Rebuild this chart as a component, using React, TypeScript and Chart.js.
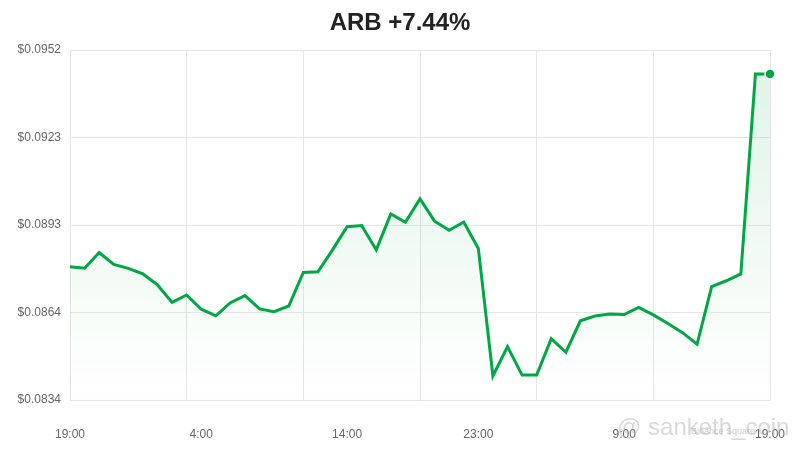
import React, { useEffect, useRef } from "react";
import { Chart, registerables } from "chart.js";

Chart.register(...registerables);

const chartTitle = "ARB +7.44%";

const hourLabels = [
  "19:00", "20:00", "21:00", "22:00", "23:00", "0:00", "1:00", "2:00", "3:00", "4:00",
  "5:00", "6:00", "7:00", "8:00", "9:00", "10:00", "11:00", "12:00", "13:00", "14:00",
  "15:00", "16:00", "17:00", "18:00", "19:00", "20:00", "21:00", "22:00", "23:00", "0:00",
  "1:00", "2:00", "3:00", "4:00", "5:00", "6:00", "7:00", "8:00", "9:00", "10:00",
  "11:00", "12:00", "13:00", "14:00", "15:00", "16:00", "17:00", "18:00", "19:00",
];

const shownLabelIndices = [0, 9, 19, 28, 38, 48];

const prices = [
  0.08789, 0.08784, 0.08837, 0.08797, 0.08784, 0.08765, 0.08728, 0.08669, 0.08694, 0.08646,
  0.08624, 0.08668, 0.08692, 0.08647, 0.08638, 0.08657, 0.0877, 0.08772, 0.08846, 0.08924,
  0.08928, 0.08846, 0.08967, 0.08939, 0.09018, 0.08943, 0.08912, 0.0894, 0.08851, 0.08421,
  0.0852, 0.08424, 0.08424, 0.08547, 0.08501, 0.08607, 0.08623, 0.0863, 0.08628, 0.08652,
  0.08627, 0.08598, 0.08567, 0.08528, 0.08722, 0.08742, 0.08765, 0.09439, 0.09439,
];

const yTickValues = [0.0834, 0.08635, 0.0893, 0.09225, 0.0952];
const yTickLabels = ["$0.0834", "$0.0864", "$0.0893", "$0.0923", "$0.0952"];

const watermarkText = "@ sanketh_coin";
const watermarkSub = "Binance Square";

const GREEN = "#00a844";
const GRID = "#e6e6e6";
const FONT = "'Liberation Sans', Arial, Helvetica, sans-serif";

export default function App() {
  const canvasRef = useRef<HTMLCanvasElement | null>(null);

  useEffect(() => {
    const canvas = canvasRef.current;
    if (!canvas) return;

    const titlePlugin = {
      id: "centeredTitle",
      afterDraw(chart: any) {
        const ctx = chart.ctx;
        ctx.save();
        ctx.fillStyle = "#222222";
        ctx.font = `bold 24px ${FONT}`;
        ctx.textAlign = "center";
        ctx.textBaseline = "middle";
        ctx.fillText(chartTitle, chart.width / 2, 23);
        ctx.restore();
      },
    };

    const watermark = {
      id: "watermark",
      afterDraw(chart: any) {
        const ctx = chart.ctx;
        ctx.save();
        ctx.fillStyle = "rgba(170,170,170,0.45)";
        ctx.font = `24px ${FONT}`;
        ctx.textBaseline = "alphabetic";
        ctx.textAlign = "left";
        ctx.fillText(watermarkText, 617, 435);
        ctx.font = `9px ${FONT}`;
        ctx.fillStyle = "rgba(170,170,170,0.6)";
        ctx.fillText(watermarkSub, 691, 434);
        ctx.restore();
      },
    };

    const lastIdx = prices.length - 1;

    const chart = new Chart(canvas, {
      type: "line",
      data: {
        labels: hourLabels,
        datasets: [
          {
            data: prices,
            borderColor: GREEN,
            borderWidth: 3,
            tension: 0,
            fill: "start",
            backgroundColor: (ctx: any) => {
              const c = ctx.chart;
              const area = c.chartArea;
              if (!area) return "rgba(0,168,68,0.08)";
              const g = c.ctx.createLinearGradient(0, area.top, 0, area.bottom);
              g.addColorStop(0, "rgba(0,168,68,0.13)");
              g.addColorStop(1, "rgba(0,168,68,0.0)");
              return g;
            },
            pointRadius: (ctx: any) => (ctx.dataIndex === lastIdx ? 5 : 0),
            pointHoverRadius: 0,
            pointBackgroundColor: GREEN,
            pointBorderColor: "#ffffff",
            pointBorderWidth: 1.5,
          },
        ],
      },
      options: {
        responsive: false,
        animation: false,
        layout: { padding: { left: 0, right: 30, top: 50, bottom: 0 } },
        plugins: {
          legend: { display: false },
          tooltip: { enabled: false },
          title: { display: false },
        },
        scales: {
          x: {
            type: "category",
            offset: false,
            grid: {
              color: (ctx: any) => (ctx.index % 8 === 0 ? GRID : "rgba(0,0,0,0)"),
              drawTicks: false,
              lineWidth: 1,
            },
            border: { display: true, color: GRID },
            ticks: {
              autoSkip: false,
              maxRotation: 0,
              minRotation: 0,
              padding: 27,
              color: "#666666",
              font: { family: FONT, size: 12 },
              callback: (_v: any, i: number) =>
                shownLabelIndices.includes(i) ? hourLabels[i] : "",
            },
            afterFit: (scale: any) => {
              scale.height = 50;
              scale.paddingLeft = 0;
              scale.paddingRight = 0;
            },
          },
          y: {
            type: "linear",
            min: yTickValues[0],
            max: yTickValues[yTickValues.length - 1],
            grid: { color: GRID, drawTicks: false },
            border: { display: true, color: GRID },
            afterBuildTicks: (scale: any) => {
              scale.ticks = yTickValues.map((v) => ({ value: v }));
            },
            ticks: {
              padding: 9,
              color: "#666666",
              font: { family: FONT, size: 12 },
              callback: (_v: any, i: number) => yTickLabels[i],
            },
            afterFit: (scale: any) => {
              scale.width = 70;
              scale.paddingTop = 0;
              scale.paddingBottom = 0;
            },
          },
        },
      },
      plugins: [titlePlugin, watermark],
    } as any);

    return () => {
      chart.destroy();
    };
  }, []);

  return (
    <div style={{ position: "absolute", left: 0, top: 0, width: 800, height: 450, background: "#fff" }}>
      <canvas ref={canvasRef} width={800} height={450} style={{ display: "block" }} />
    </div>
  );
}
